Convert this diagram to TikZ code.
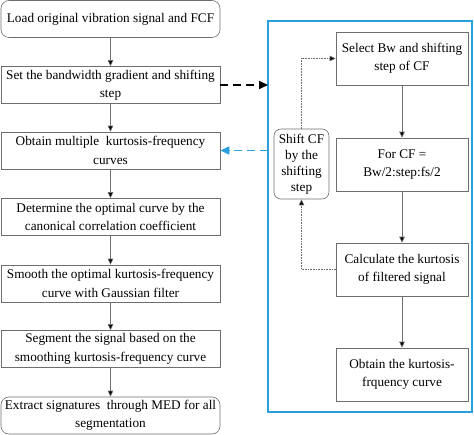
\documentclass[tikz,border=0pt]{standalone}
\usepackage{fontspec}
\setmainfont{Liberation Serif}
\usetikzlibrary{arrows.meta,calc}
\definecolor{frameblue}{RGB}{40,160,220}
\definecolor{boxgray}{RGB}{110,110,110}
\begin{document}
\begin{tikzpicture}[x=1bp,y=-1bp,
  font=\fontsize{13.3}{18.5}\selectfont,
  lbox/.style={draw=boxgray,line width=0.6pt,minimum width=219bp,minimum height=37bp,align=center,inner sep=0pt},
  rlbox/.style={lbox,rounded corners=8bp},
  rbox/.style={draw=boxgray,line width=0.6pt,minimum width=132bp,minimum height=53bp,align=center,inner sep=0pt},
  sbox/.style={draw=boxgray,line width=0.6pt,rounded corners=7bp,minimum width=55bp,minimum height=70bp,align=center,inner sep=0pt,font=\fontsize{13.3}{16.2}\selectfont},
  flow/.style={draw=boxgray,line width=0.6pt,-{Triangle[width=5.5pt,length=6pt,fill=black]}},
  dotflow/.style={draw=boxgray,line width=0.6pt,densely dotted,-{Triangle[width=5.5pt,length=6pt,fill=black]}},
  bigdash/.style={line width=1.6pt,dash pattern=on 8pt off 5pt,-{Triangle[width=8pt,length=9pt]}}]
\useasboundingbox (0,0) rectangle (474,435);
% left column
\node[rlbox] (b1) at (110.5,19) {Load original vibration signal and FCF};
\node[lbox] (b2) at (110.5,85) {Set the bandwidth gradient and shifting\\step};
\node[lbox] (b3) at (110.5,150.5) {Obtain multiple\ \ kurtosis-frequency\\curves};
\node[lbox] (b4) at (110.5,217) {Determine the optimal curve by the\\canonical correlation coefficient};
\node[lbox] (b5) at (110.5,283.5) {Smooth the optimal kurtosis-frequency\\curve with Gaussian filter};
\node[lbox] (b6) at (110.5,349) {Segment the signal based on the\\smoothing kurtosis-frequency curve};
\node[rlbox] (b7) at (110.5,415.5) {Extract signatures\ \ through MED for all\\segmentation};
\draw[flow] (b1) -- (b2);
\draw[flow] (b2) -- (b3);
\draw[flow] (b3) -- (b4);
\draw[flow] (b4) -- (b5);
\draw[flow] (b5) -- (b6);
\draw[flow] (b6) -- (b7);
% frame
\coordinate (ftl) at (268,21);
\coordinate (fbr) at (472,412);
\draw[frameblue,line width=1.2pt] (ftl) rectangle (fbr);
% right column
\node[rbox] (r1) at (402,58.5) {Select Bw and shifting\\step of CF};
\node[rbox] (r2) at (402,164.5) {For CF =\\Bw/2:step:fs/2};
\node[rbox] (r3) at (402,269.5) {Calculate the kurtosis\\of filtered signal};
\node[rbox] (r4) at (402,374.5) {Obtain the kurtosis-\\frquency curve};
\node[sbox] (s) at (301.5,164) {Shift CF\\by the\\shifting\\step};
\draw[flow] (r1) -- (r2);
\draw[flow] (r2) -- (r3);
\draw[flow] (r3) -- (r4);
\draw[dotflow] (r3.west) -| (s.south);
\draw[dotflow] (s.north) |- (r1.west);
% connections to frame
\draw[bigdash,black] (b2.east) -- (b2.east -| ftl);
\draw[bigdash,frameblue] (b3.east -| ftl) -- (b3.east);
\end{tikzpicture}
\end{document}
